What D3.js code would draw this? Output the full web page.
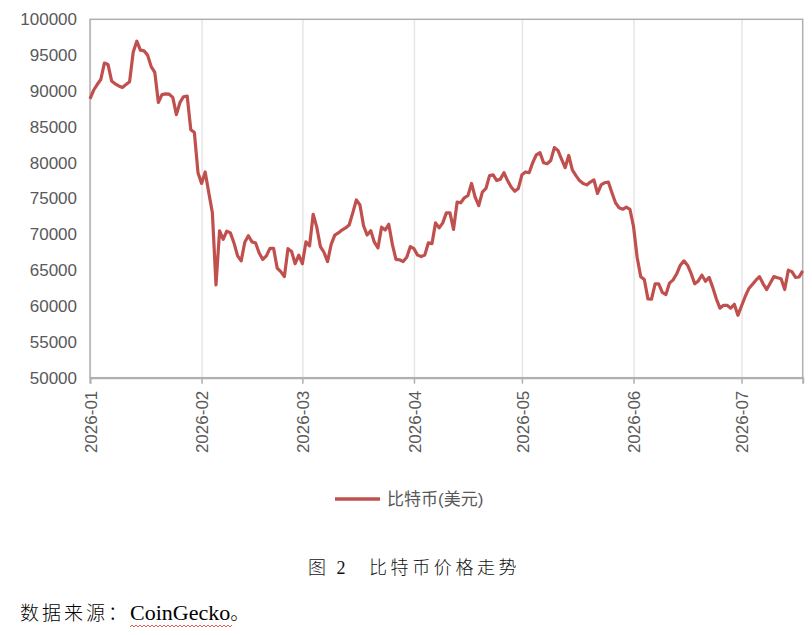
<!DOCTYPE html>
<html lang="zh">
<head>
    <meta charset="UTF-8">
    <title>比特币价格走势</title>
    <script src="https://d3js.org/d3.v7.min.js"></script>
    <style>
        body { margin: 0; background: #fff; }
        svg { display: block; }
    </style>
</head>
<body>

<svg width="812" height="635"></svg>
<script>

    // daily closing price, starting 2026-01-01
    var startDate = "2026-01-01";
    var prices = [
        88900, 90100, 90900, 91600, 93900, 93700, 91400, 91000, 90700, 90500,
        90900, 91300, 95400, 96950, 95700, 95600, 95000, 93400, 92600, 88400,
        89500, 89600, 89550, 89100, 86700, 88400, 89200, 89300, 84600, 84200,
        78600, 77100, 78700, 75800, 73000, 62950, 70500, 69300, 70450, 70200,
        68800, 67000, 66300, 68900, 69800, 68950, 68800, 67400, 66500, 67000,
        68050, 68050, 65300, 64800, 64100, 68000, 67600, 65900, 67100, 65900,
        68950, 68400, 72800, 71000, 68300, 67500, 66200, 68600, 69900, 70200,
        70600, 70900, 71300, 73000, 74800, 74100, 71200, 69900, 70500, 68900,
        68100, 71000, 70600, 71400, 68600, 66500, 66450, 66200, 66800, 68300,
        68000, 67100, 66900, 67100, 68800, 68700, 71600, 70900, 71600, 73000,
        73000, 70700, 74500, 74400, 75100, 75400, 77100, 75200, 74000, 75900,
        76400, 78200, 78300, 77500, 77700, 78600, 77500, 76600, 76000, 76400,
        78300, 78700, 78600, 80000, 81100, 81400, 80000, 79850, 80300, 82100,
        81700, 80500, 79300, 81000, 79000, 78200, 77500, 77100, 76900, 77300,
        77600, 75700, 76900, 77200, 77300, 75800, 74400, 73700, 73500, 73800,
        73500, 71100, 66800, 64100, 63700, 61000, 60950, 63100, 63100, 61900,
        61600, 63200, 63650, 64500, 65700, 66300, 65700, 64550, 63100, 63500,
        64300, 63450, 64000, 62600, 61000, 59700, 60100, 60100, 59700, 60250,
        58700, 60000, 61300, 62400, 63000, 63600, 64100, 63100, 62300, 63200,
        64100, 63950, 63800, 62300, 65000, 64800, 64000, 64050, 64900
    ];
    var monthTicks = ["2026-01", "2026-02", "2026-03", "2026-04", "2026-05", "2026-06", "2026-07"];
    var yTicks = [50000, 55000, 60000, 65000, 70000, 75000, 80000, 85000, 90000, 95000, 100000];
    var seriesName = "比特币(美元)";
    var captionNo = "图 2";
    var captionText = "比特币价格走势";
    var sourceLabel = "数据来源：";
    var sourceName = "CoinGecko";

    var svg = d3.select("svg"),
        plotLeft = 90, plotRight = 802.7, plotTop = 19.3, plotBottom = 377.7;

    var parseDay = d3.timeParse("%Y-%m-%d"),
        parseMonth = d3.timeParse("%Y-%m"),
        day0 = parseDay(startDate);

    var data = prices.map(function (v, i) {
        return { date: d3.timeDay.offset(day0, i), value: v };
    });

    var x = d3.scaleTime()
        .domain([day0, data[data.length - 1].date])
        .range([plotLeft, plotRight]);

    var y = d3.scaleLinear()
        .domain([50000, 100000])
        .range([plotBottom, plotTop]);

    var tickDates = monthTicks.map(function (m) { return parseMonth(m); });

    // vertical grid lines
    svg.append("g")
        .attr("transform", "translate(0," + plotBottom + ")")
        .call(d3.axisBottom(x).tickValues(tickDates).tickSize(-(plotBottom - plotTop)).tickFormat(""))
        .call(function (g) {
            g.select(".domain").remove();
            g.selectAll("line").attr("stroke", "#e6e6e6").attr("stroke-width", 1.5);
        });

    // plot frame
    svg.append("rect")
        .attr("x", plotLeft)
        .attr("y", plotTop)
        .attr("width", plotRight - plotLeft)
        .attr("height", plotBottom - plotTop)
        .attr("fill", "none")
        .attr("stroke", "#b0b0b0")
        .attr("stroke-width", 1.5);

    // x axis
    var xAxis = svg.append("g")
        .attr("transform", "translate(0," + plotBottom + ")")
        .call(d3.axisBottom(x).tickValues(tickDates).tickSize(6).tickFormat(d3.timeFormat("%Y-%m")));

    xAxis.select(".domain").attr("stroke", "#b0b0b0").attr("stroke-width", 2);
    xAxis.selectAll(".tick line").attr("stroke", "#b0b0b0").attr("stroke-width", 1.5);
    xAxis.selectAll(".tick text")
        .attr("font-family", "'Liberation Sans', Arial, sans-serif")
        .attr("font-size", 17)
        .attr("fill", "#595959")
        .attr("text-anchor", "end")
        .attr("transform", "rotate(-90)")
        .attr("x", -13)
        .attr("y", 0)
        .attr("dy", "0.36em");

    // y axis labels
    var yAxis = svg.append("g")
        .attr("transform", "translate(" + plotLeft + ",0)")
        .call(d3.axisLeft(y).tickValues(yTicks).tickSize(0).tickPadding(13).tickFormat(d3.format("d")));

    yAxis.select(".domain").remove();
    yAxis.selectAll(".tick text")
        .attr("font-family", "'Liberation Sans', Arial, sans-serif")
        .attr("font-size", 17)
        .attr("fill", "#595959");

    // price line
    var line = d3.line()
        .x(function (d) { return x(d.date); })
        .y(function (d) { return y(d.value); });

    svg.append("path")
        .datum(data)
        .attr("fill", "none")
        .attr("stroke", "#c0504d")
        .attr("stroke-width", 3.2)
        .attr("stroke-linejoin", "round")
        .attr("d", line);

    // legend
    var legend = svg.append("g").attr("transform", "translate(335,499)");
    legend.append("line")
        .attr("x1", 0).attr("x2", 45)
        .attr("stroke", "#c0504d")
        .attr("stroke-width", 3.5);
    legend.append("text")
        .attr("x", 52)
        .attr("dy", "0.36em")
        .attr("font-family", "'Liberation Sans', 'Noto Sans CJK SC', sans-serif")
        .attr("font-size", 17)
        .attr("fill", "#595959")
        .text(seriesName);

    // caption
    svg.append("text")
        .attr("x", 308)
        .attr("y", 574)
        .attr("font-family", "'Liberation Serif', 'Noto Sans CJK SC', serif")
        .attr("font-weight", 300)
        .attr("font-size", 18)
        .attr("letter-spacing", 3)
        .attr("fill", "#111")
        .text(captionNo);
    svg.append("text")
        .attr("x", 369)
        .attr("y", 574)
        .attr("font-family", "'Noto Sans CJK SC', sans-serif")
        .attr("font-weight", 300)
        .attr("font-size", 18)
        .attr("letter-spacing", 3.6)
        .attr("fill", "#111")
        .text(captionText);

    // source note
    var src = svg.append("text")
        .attr("y", 620)
        .attr("fill", "#000");
    src.append("tspan")
        .attr("x", 20)
        .attr("font-family", "'Noto Sans CJK SC', sans-serif")
        .attr("font-weight", 300)
        .attr("font-size", 19)
        .attr("letter-spacing", 3)
        .text(sourceLabel);
    src.append("tspan")
        .attr("x", 130)
        .attr("font-family", "'Liberation Serif', 'Times New Roman', serif")
        .attr("font-size", 22)
        .text(sourceName);
    src.append("tspan")
        .attr("font-family", "'Noto Sans CJK SC', sans-serif")
        .attr("font-weight", 300)
        .attr("font-size", 19)
        .text("。");

    // spell-check squiggle under the source name
    var wave = d3.range(130, 233, 2).map(function (px, i) { return [px, 626 + (i % 2 ? -1 : 1)]; });
    svg.append("path")
        .attr("d", d3.line()(wave))
        .attr("fill", "none")
        .attr("stroke", "#e03030")
        .attr("stroke-width", 0.8);

</script>

</body>
</html>
